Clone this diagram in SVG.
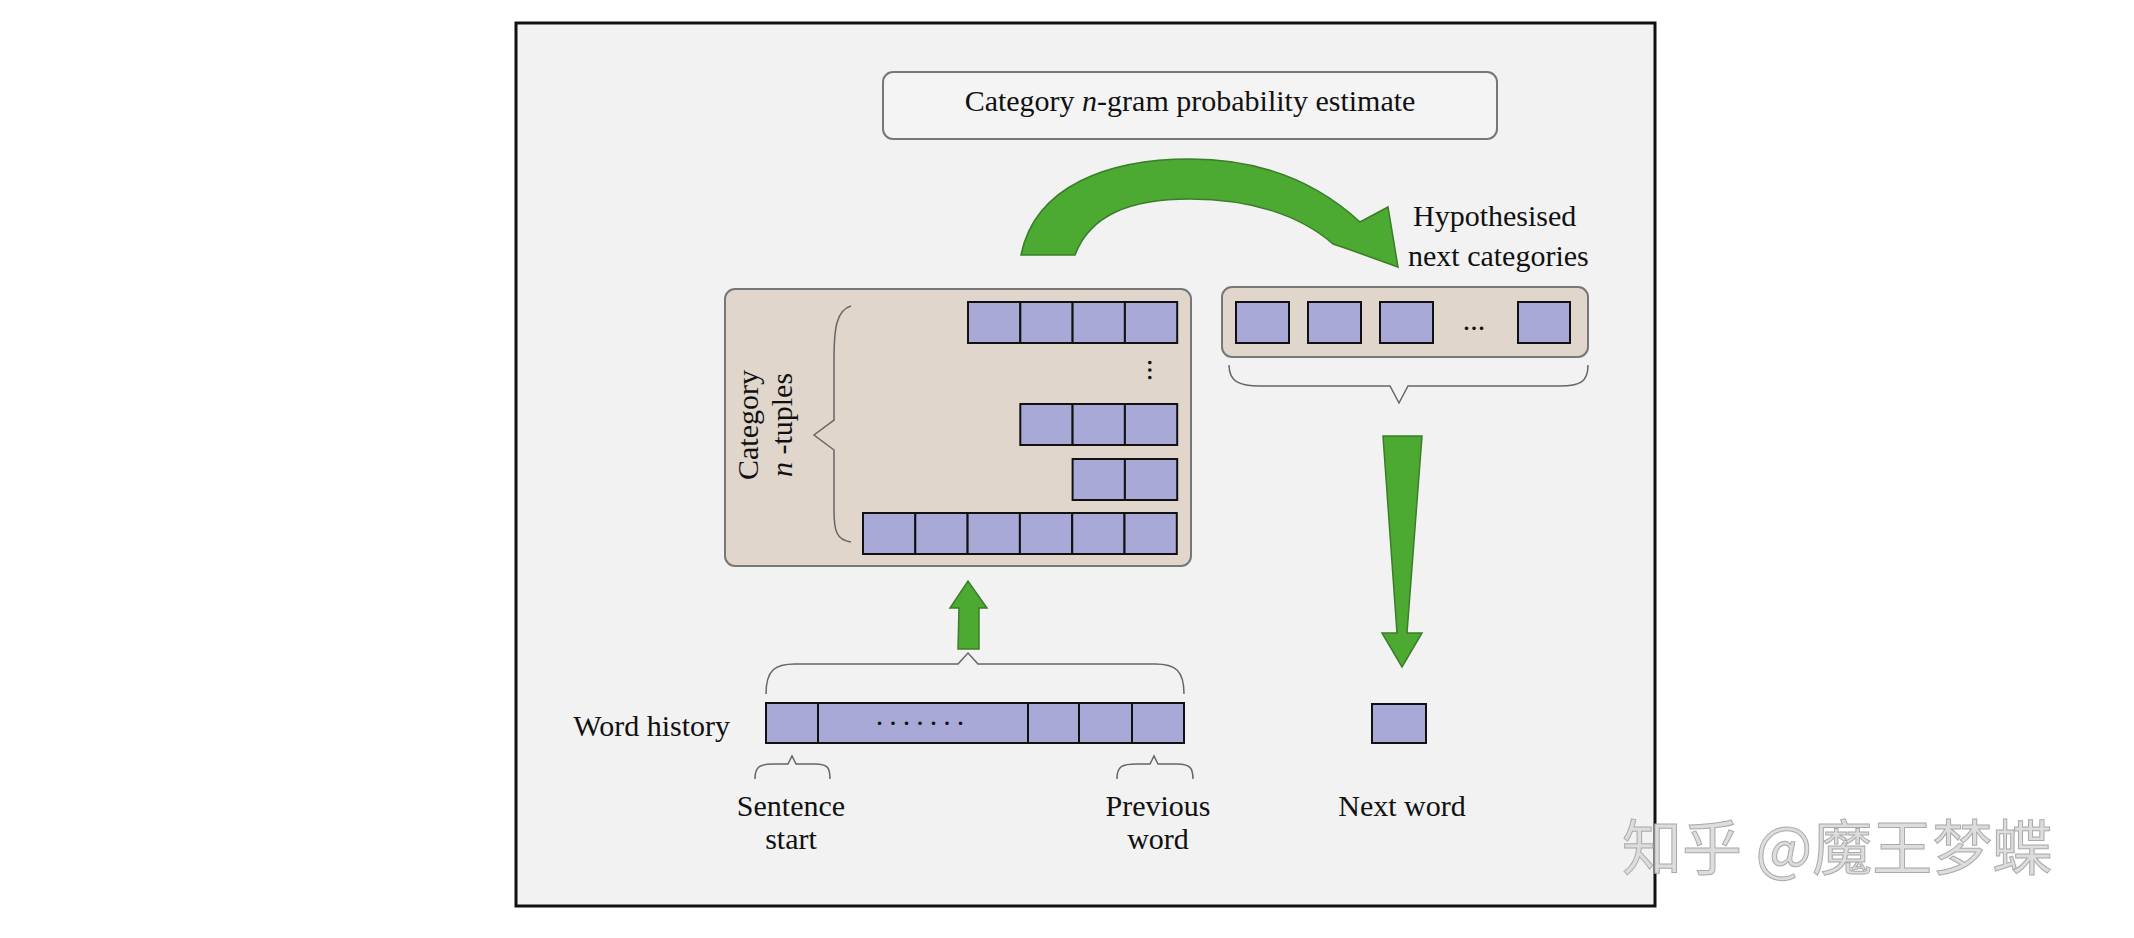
<svg xmlns="http://www.w3.org/2000/svg" width="2134" height="938" viewBox="0 0 2134 938">
<style>
.t{font-family:"Liberation Serif","DejaVu Serif",serif;font-size:30px;fill:#111}
.c{fill:#a9a9d8;stroke:#111;stroke-width:2}
.tan{fill:#e0d6cc;stroke:#777;stroke-width:2}
.br{fill:none;stroke:#666;stroke-width:1.5}
.g{fill:#4caa32;stroke:#3b7d28;stroke-width:1.5}
</style>
<rect x="0" y="0" width="2134" height="938" fill="#fff"/>
<rect id="frame" x="516" y="23" width="1139" height="883" fill="#f2f2f2" stroke="#111" stroke-width="3"/>
<g id="title"><rect x="883" y="72" width="614" height="67" rx="10" fill="#f4f4f4" stroke="#777" stroke-width="2"/>
<text class="t" x="1190" y="111" text-anchor="middle">Category  <tspan font-style="italic">n</tspan>-gram probability estimate</text></g>
<g id="tuples">
<rect class="tan" x="725" y="289" width="466" height="277" rx="10"/>
<path class="br" d="M851,306 C836,310 834,330 834,360 L834,420 L814,435 L834,450 L834,510 C834,530 836,540 851,542"/>
<text class="t" transform="translate(758,425) rotate(-90)" text-anchor="middle">Category</text>
<text class="t" transform="translate(792,425) rotate(-90)" text-anchor="middle"><tspan font-style="italic">n</tspan> -tuples</text>
<g>
<rect class="c" x="968" y="302" width="52.3" height="41"/><rect class="c" x="1020.3" y="302" width="52.3" height="41"/><rect class="c" x="1072.6" y="302" width="52.3" height="41"/><rect class="c" x="1124.9" y="302" width="52.3" height="41"/>
<text class="t" x="1150" y="372" text-anchor="middle" transform="rotate(90 1150 370)" font-size="24">...</text>
<rect class="c" x="1020.3" y="404" width="52.3" height="41"/><rect class="c" x="1072.6" y="404" width="52.3" height="41"/><rect class="c" x="1124.9" y="404" width="52.3" height="41"/>
<rect class="c" x="1072.6" y="459" width="52.3" height="41"/><rect class="c" x="1124.9" y="459" width="52.3" height="41"/>
<rect class="c" x="863" y="513" width="52.3" height="41"/><rect class="c" x="915.3" y="513" width="52.3" height="41"/><rect class="c" x="967.6" y="513" width="52.3" height="41"/><rect class="c" x="1019.9" y="513" width="52.3" height="41"/><rect class="c" x="1072.2" y="513" width="52.3" height="41"/><rect class="c" x="1124.5" y="513" width="52.3" height="41"/>
</g></g>
<g id="hyp">
<rect class="tan" x="1222" y="287" width="366" height="70" rx="10"/>
<rect class="c" x="1236" y="302" width="53" height="41"/><rect class="c" x="1308" y="302" width="53" height="41"/><rect class="c" x="1380" y="302" width="53" height="41"/><rect class="c" x="1518" y="302" width="52" height="41"/>
<text class="t" x="1474" y="330" text-anchor="middle" font-size="20">...</text>
<path class="br" d="M1229,365 C1229,382 1240,386 1260,386 L1390,386 L1399,403 L1408,386 L1560,386 C1580,386 1588,382 1588,365"/>
<text class="t" x="1413" y="226">Hypothesised</text>
<text class="t" x="1408" y="266">next categories</text>
</g>
<g id="history">
<path class="br" d="M766,694 C766,670 775,664 795,664 L958,664 L968,653 L978,664 L1155,664 C1175,664 1184,670 1184,694"/>
<text class="t" x="730" y="736" text-anchor="end">Word history</text>
<rect class="c" x="766" y="703" width="52" height="40"/><rect class="c" x="818" y="703" width="210" height="40"/><rect class="c" x="1028" y="703" width="51" height="40"/><rect class="c" x="1079" y="703" width="53" height="40"/><rect class="c" x="1132" y="703" width="52" height="40"/>
<text class="t" x="923" y="725" text-anchor="middle" font-size="20" letter-spacing="6">.......</text>
<path class="br" d="M755,779 C755,766 760,764 775,764 L788,764 L792,756 L796,764 L815,764 C828,764 830,768 830,779"/>
<path class="br" d="M1117,779 C1117,766 1122,764 1137,764 L1150,764 L1154,756 L1158,764 L1177,764 C1190,764 1193,768 1193,779"/>
<text class="t" x="791" y="816" text-anchor="middle">Sentence</text>
<text class="t" x="791" y="849" text-anchor="middle">start</text>
<text class="t" x="1158" y="816" text-anchor="middle">Previous</text>
<text class="t" x="1158" y="849" text-anchor="middle">word</text>
</g>
<g id="next"><rect class="c" x="1372" y="704" width="54" height="39"/>
<text class="t" x="1402" y="816" text-anchor="middle">Next word</text></g>
<g id="connectors">
<path class="g" d="M1021,255 C1035,185 1110,159 1190,159 C1265,159 1320,185 1360,222 L1388,207 L1398,267 L1345,248 L1333,244 C1300,215 1250,199 1190,199 C1130,199 1090,215 1075,255 Z"/>
<path class="g" d="M1383,436 L1422,436 L1407,633 L1422,633 L1402,667 L1382,633 L1397,633 Z"/>
<path class="g" d="M958,649 L959,608 L950,608 L968,581 L987,608 L979,608 L979,649 Z"/>
</g>
<text x="1622" y="870" font-family="Noto Sans CJK SC,sans-serif" font-size="60" fill="#ddd" stroke="#aaa" stroke-width="1">知乎 @魔王梦蝶</text>
</svg>
